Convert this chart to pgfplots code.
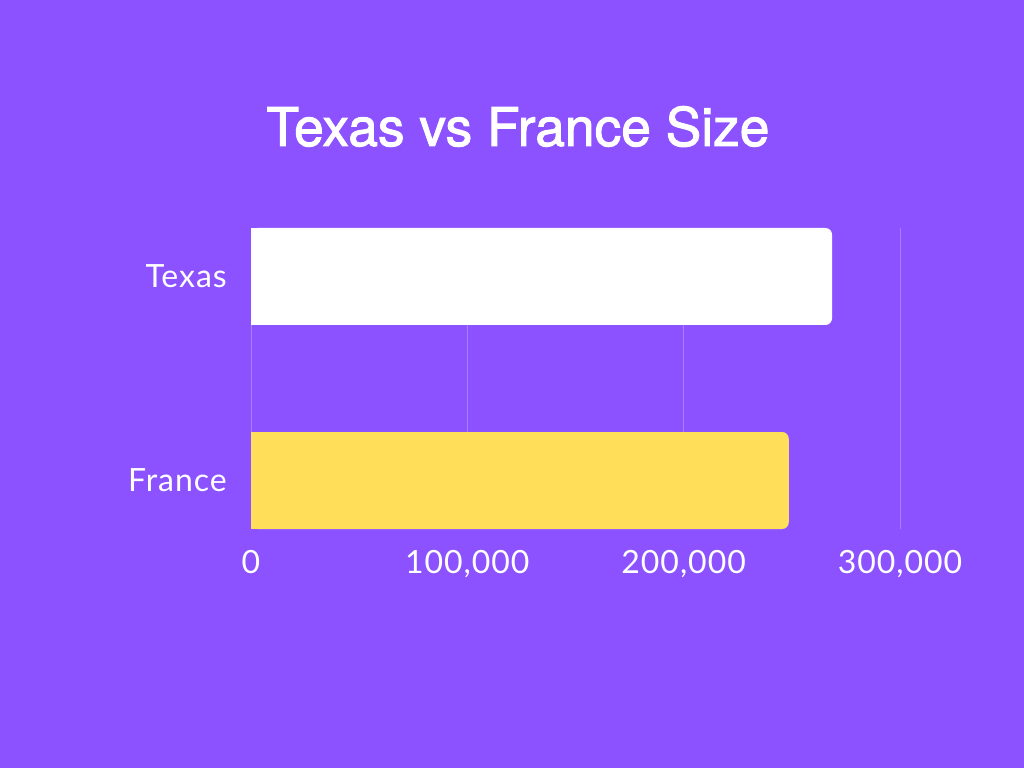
\documentclass[border=0pt]{standalone}
\usepackage{pgfplots}
\usepackage{pgfplotstable}
\pgfplotsset{compat=1.18}
\usepackage{fontspec}
\setmainfont{Lato}[LetterSpace=3]
\newfontfamily\titlefont{TeX Gyre Heros}[FakeBold=1.8]

\definecolor{bgpurple}{HTML}{8C52FF}
\definecolor{barYellow}{HTML}{FFDE59}
\definecolor{gridpurple}{HTML}{A680FF}

% land area in square miles
\pgfplotstableread{
pos area
1 268596
}\texasdata
\pgfplotstableread{
pos area
0 248573
}\francedata

\begin{document}
\begin{tikzpicture}
\useasboundingbox (0,0) rectangle (768pt,576pt);
\fill[bgpurple] (0,0) rectangle (768pt,576pt);

\node[anchor=base, text=white, font=\titlefont\fontsize{40}{44}\selectfont]
  at (388.5pt,466.5pt) {Texas vs France Size};

\begin{axis}[
  at={(188.25pt,179.25pt)}, anchor=south west,
  scale only axis, width=486.75pt, height=225.75pt,
  xbar, bar width=72.75pt,
  xmin=0, xmax=300000, ymin=-0.2377, ymax=1.2377,
  ytick={0,1}, yticklabels={France,Texas},
  xtick={0,100000,200000,300000},
  xticklabels={0,{100,000},{200,000},{300,000}},
  scaled x ticks=false,
  axis line style={draw=none},
  major tick length=0pt,
  xmajorgrids, grid style={color=gridpurple, line width=0.75pt},
  tick label style={font=\fontsize{24}{28}\selectfont, text=white},
  xticklabel style={anchor=north, inner sep=0pt, yshift=-15.75pt},
  yticklabel style={anchor=east, inner sep=0pt, xshift=-18pt},
  clip=false,
]
% rounded right end, square left end (second bar covers the left corners)
\addplot[bar shift=0pt, fill=white, draw=none, rounded corners=5pt]
  table[x=area, y=pos] {\texasdata};
\addplot[bar shift=0pt, fill=white, draw=none]
  table[x expr=\thisrow{area}/2, y=pos] {\texasdata};
\addplot[bar shift=0pt, fill=barYellow, draw=none, rounded corners=5pt]
  table[x=area, y=pos] {\francedata};
\addplot[bar shift=0pt, fill=barYellow, draw=none]
  table[x expr=\thisrow{area}/2, y=pos] {\francedata};
\end{axis}
\end{tikzpicture}
\end{document}
